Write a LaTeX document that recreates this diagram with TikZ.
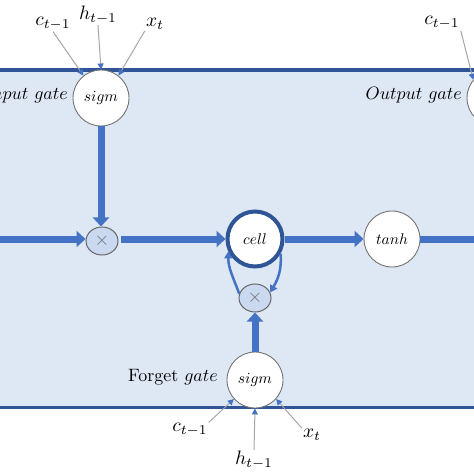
\documentclass[tikz,border=0pt]{standalone}
\usetikzlibrary{arrows.meta,shapes.geometric}
\definecolor{bgblue}{HTML}{DEE8F5}
\definecolor{darkb}{HTML}{2F5597}
\definecolor{midb}{HTML}{4472C4}
\definecolor{multfill}{HTML}{CAD8F0}
\definecolor{greyl}{HTML}{A6A6A6}
\newcommand{\inside}[1]{\scalebox{1.55}{$#1$}}
\newcommand{\siglab}[1]{\scalebox{1.95}{$#1$}}
\newcommand{\gname}[1]{\scalebox{1.8}{#1}}
\begin{document}
\begin{tikzpicture}[x=1bp,y=-1bp,
  gate/.style={circle,draw=black!55,fill=white,minimum size=56bp,inner sep=0pt,line width=0.9bp},
  cellnode/.style={circle,draw=darkb,fill=white,minimum size=55bp,inner sep=0pt,line width=4bp},
  mult/.style={ellipse,draw=black!60,fill=multfill,minimum width=32bp,minimum height=28bp,inner sep=0pt,line width=1bp,text=black!55},
  flow/.style={draw=midb,line width=7bp,-{Triangle[length=9bp,width=16bp]}},
  loopar/.style={draw=midb,line width=2.5bp,-{Triangle[length=7bp,width=8bp]}},
  inlab/.style={draw=greyl,line width=1bp,-{Triangle[length=6bp,width=6bp,color=midb,fill=midb]}},
  lab/.style={inner sep=1bp},
  gatelab/.style={anchor=east,inner sep=0pt}
]
\useasboundingbox (0,0) rectangle (474,474);
\clip (0,0) rectangle (474,474);
\fill[bgblue] (0,70) rectangle (474,407.5);
\draw[darkb,line width=4bp] (0,70) -- (474,70);
\draw[darkb,line width=3.5bp] (0,407.5) -- (474,407.5);

% nodes
\node[gate] (ig) at (101,98) {\inside{sigm}};
\node[gatelab] (igl) at (68,95) {\gname{$Input\ gate$}};
\node[gate] (og) at (495,98) {};
\node[gatelab] (ogl) at (462,95) {\gname{$Output\ gate$}};
\node[mult] (m1) at (102,241) {\scalebox{1.9}{$\times$}};
\node[cellnode] (cell) at (255,239) {\inside{cell}};
\node[mult] (m2) at (255,298) {\scalebox{1.9}{$\times$}};
\node[gate] (fg) at (255,380) {\inside{sigm}};
\node[gatelab] (fgl) at (218,377) {\gname{Forget $gate$}};
\node[gate] (th) at (392,239) {\inside{tanh}};
\coordinate (lin) at (0,239);
\coordinate (rout) at (474,239);

% input labels
\node[lab] (ic) at (53,24) {\siglab{c_{t-1}}};
\node[lab] (ih) at (98,15) {\siglab{h_{t-1}}};
\node[lab] (ix) at (155,24) {\siglab{x_t}};
\node[lab] (oc) at (442,23) {\siglab{c_{t-1}}};
\node[lab] (fc) at (190,430) {\siglab{c_{t-1}}};
\node[lab] (fh) at (254,460) {\siglab{h_{t-1}}};
\node[lab] (fx) at (312,435) {\siglab{x_t}};

\draw[inlab] (ic.south) -- (ig.128);
\draw[inlab] (ih.south) -- (ig.north);
\draw[inlab] (ix.south west) -- (ig.52);
\draw[inlab] (oc.south east) -- (og.140);
\draw[inlab] (fc.north east) -- (fg.222);
\draw[inlab] (fh.north) -- (fg.south);
\draw[inlab] (fx.north west) -- (fg.318);

% flow
\draw[flow] (ig.south) -- (ig.south |- m1.north);
\draw[flow] (lin) -- (lin -| m1.west);
\draw[flow,shorten <=2bp] (m1.east |- cell) -- (cell.west);
\draw[flow] (cell) -- (th);
\draw[flow] (fg) -- (m2);
\draw[draw=midb,line width=7bp] (th) -- (rout);

% loop
\draw[loopar] (m2.165) to[out=110,in=-90] (cell.205);
\draw[loopar] (cell.330) to[out=-85,in=60] (m2.20);
\end{tikzpicture}
\end{document}
